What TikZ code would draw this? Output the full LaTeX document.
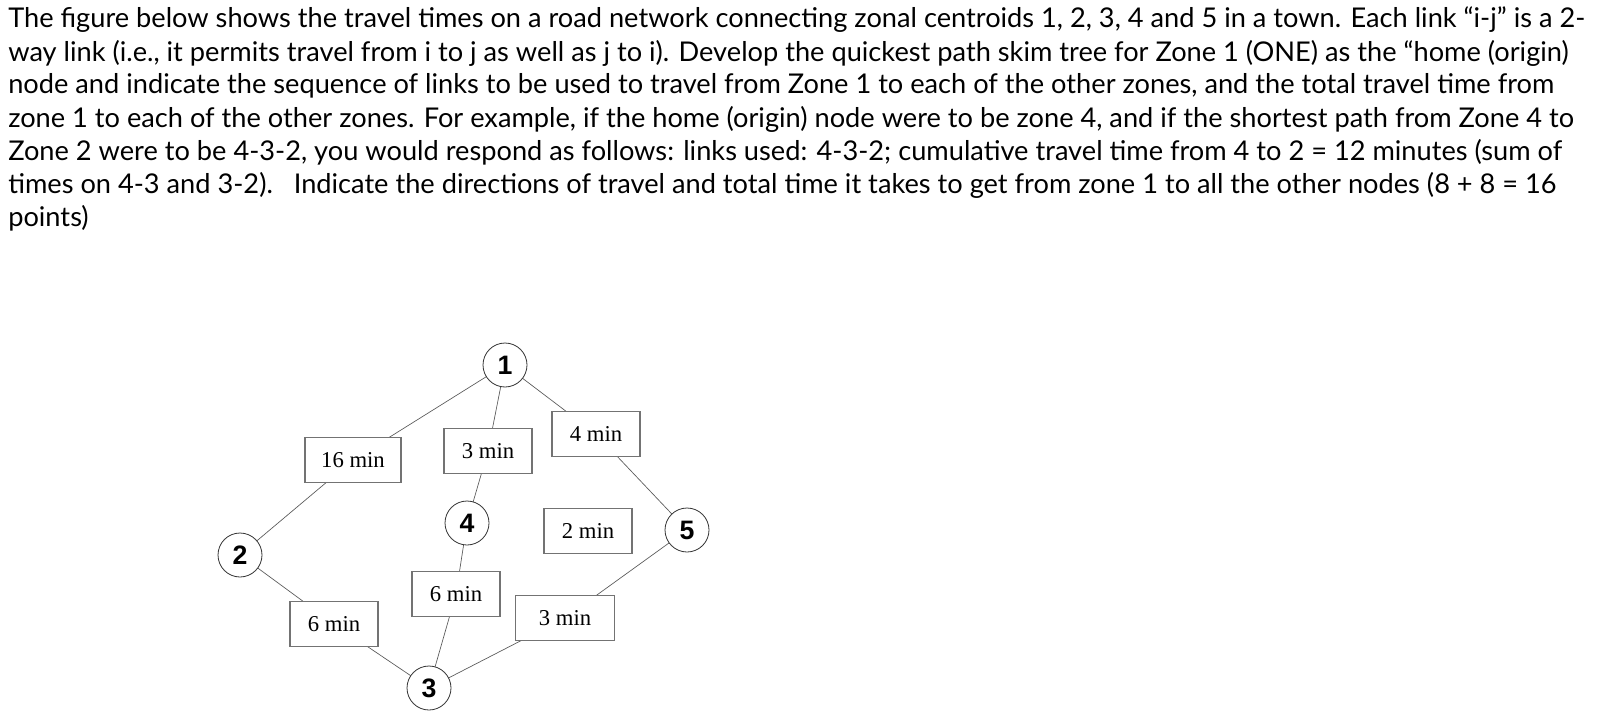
\documentclass[tikz,border=0pt]{standalone}
\usepackage{fontspec}
\setmainfont{Lato}
\newfontfamily\tmsfont{Liberation Serif}
\newfontfamily\arfont{Liberation Sans}
\begin{document}
\begin{tikzpicture}[x=0.75pt,y=-0.75pt,
  txt/.style={anchor=west,inner sep=0pt,font=\fontsize{20.4}{22}\selectfont},
  zone/.style={circle,draw=black!80,line width=0.6pt,minimum size=33pt,inner sep=0pt,fill=white,font=\arfont\bfseries\fontsize{20}{20}\selectfont},
  lab/.style={draw=black!55,line width=0.9pt,fill=white,minimum width=66pt,minimum height=34pt,inner sep=0pt,font=\tmsfont\fontsize{17}{18}\selectfont},
  link/.style={draw=black!65,line width=0.5pt}]
\useasboundingbox (0,0) rectangle (1600,717);
\fill[white] (0,0) rectangle (1600,717);
\node[txt] (t1) at (8,20) {The figure below shows the travel times on a road network connecting zonal centroids 1, 2, 3, 4 and 5 in a town. Each link “i-j” is a 2-};
\node[txt] (t2) at (8,53) {way link (i.e., it permits travel from i to j as well as j to i). Develop the quickest path skim tree for Zone 1 (ONE) as the “home (origin)};
\node[txt] (t3) at (8,86) {node and indicate the sequence of links to be used to travel from Zone 1 to each of the other zones, and the total travel time from};
\node[txt] (t4) at (8,119) {zone 1 to each of the other zones. For example, if the home (origin) node were to be zone 4, and if the shortest path from Zone 4 to};
\node[txt] (t5) at (8,152) {Zone 2 were to be 4-3-2, you would respond as follows: links used: 4-3-2; cumulative travel time from 4 to 2 = 12 minutes (sum of};
\node[txt] (t6) at (8,185) {times on 4-3 and 3-2).\ \ \ Indicate the directions of travel and total time it takes to get from zone 1 to all the other nodes (8 + 8 = 16};
\node[txt] (t7) at (8,218) {points)};

\coordinate (p1) at (505,365);
\coordinate (p2) at (240,555);
\coordinate (p4) at (467,523);
\coordinate (p5) at (687,530);
\coordinate (p3) at (429,688);
\coordinate (q16) at (353,460);
\coordinate (q3a) at (488,451);
\coordinate (q4) at (596,434);
\coordinate (q6a) at (456,594);
\coordinate (q6b) at (334,624);
\coordinate (q3b) at (565,618);
\draw[link] (p1) -- (q16) -- (p2);
\draw[link] (p1) -- (q3a) -- (p4);
\draw[link] (p1) -- (q4) -- (p5);
\draw[link] (p4) -- (q6a) -- (p3);
\draw[link] (p2) -- (q6b) -- (p3);
\draw[link] (p5) -- (q3b) -- (p3);

\node[zone] (n1) at (p1) {1};
\node[zone] (n2) at (p2) {2};
\node[zone] (n4) at (p4) {4};
\node[zone] (n5) at (p5) {5};
\node[zone] (n3) at (p3) {3};

\node[lab,minimum width=72pt] (b16) at (q16) {16 min};
\node[lab] (b3a) at (q3a) {3 min};
\node[lab] (b4) at (q4) {4 min};
\node[lab] (b2) at (588,531) {2 min};
\node[lab] (b6a) at (q6a) {6 min};
\node[lab] (b6b) at (q6b) {6 min};
\node[lab,minimum width=74pt] (b3b) at (q3b) {3 min};
\end{tikzpicture}
\end{document}
